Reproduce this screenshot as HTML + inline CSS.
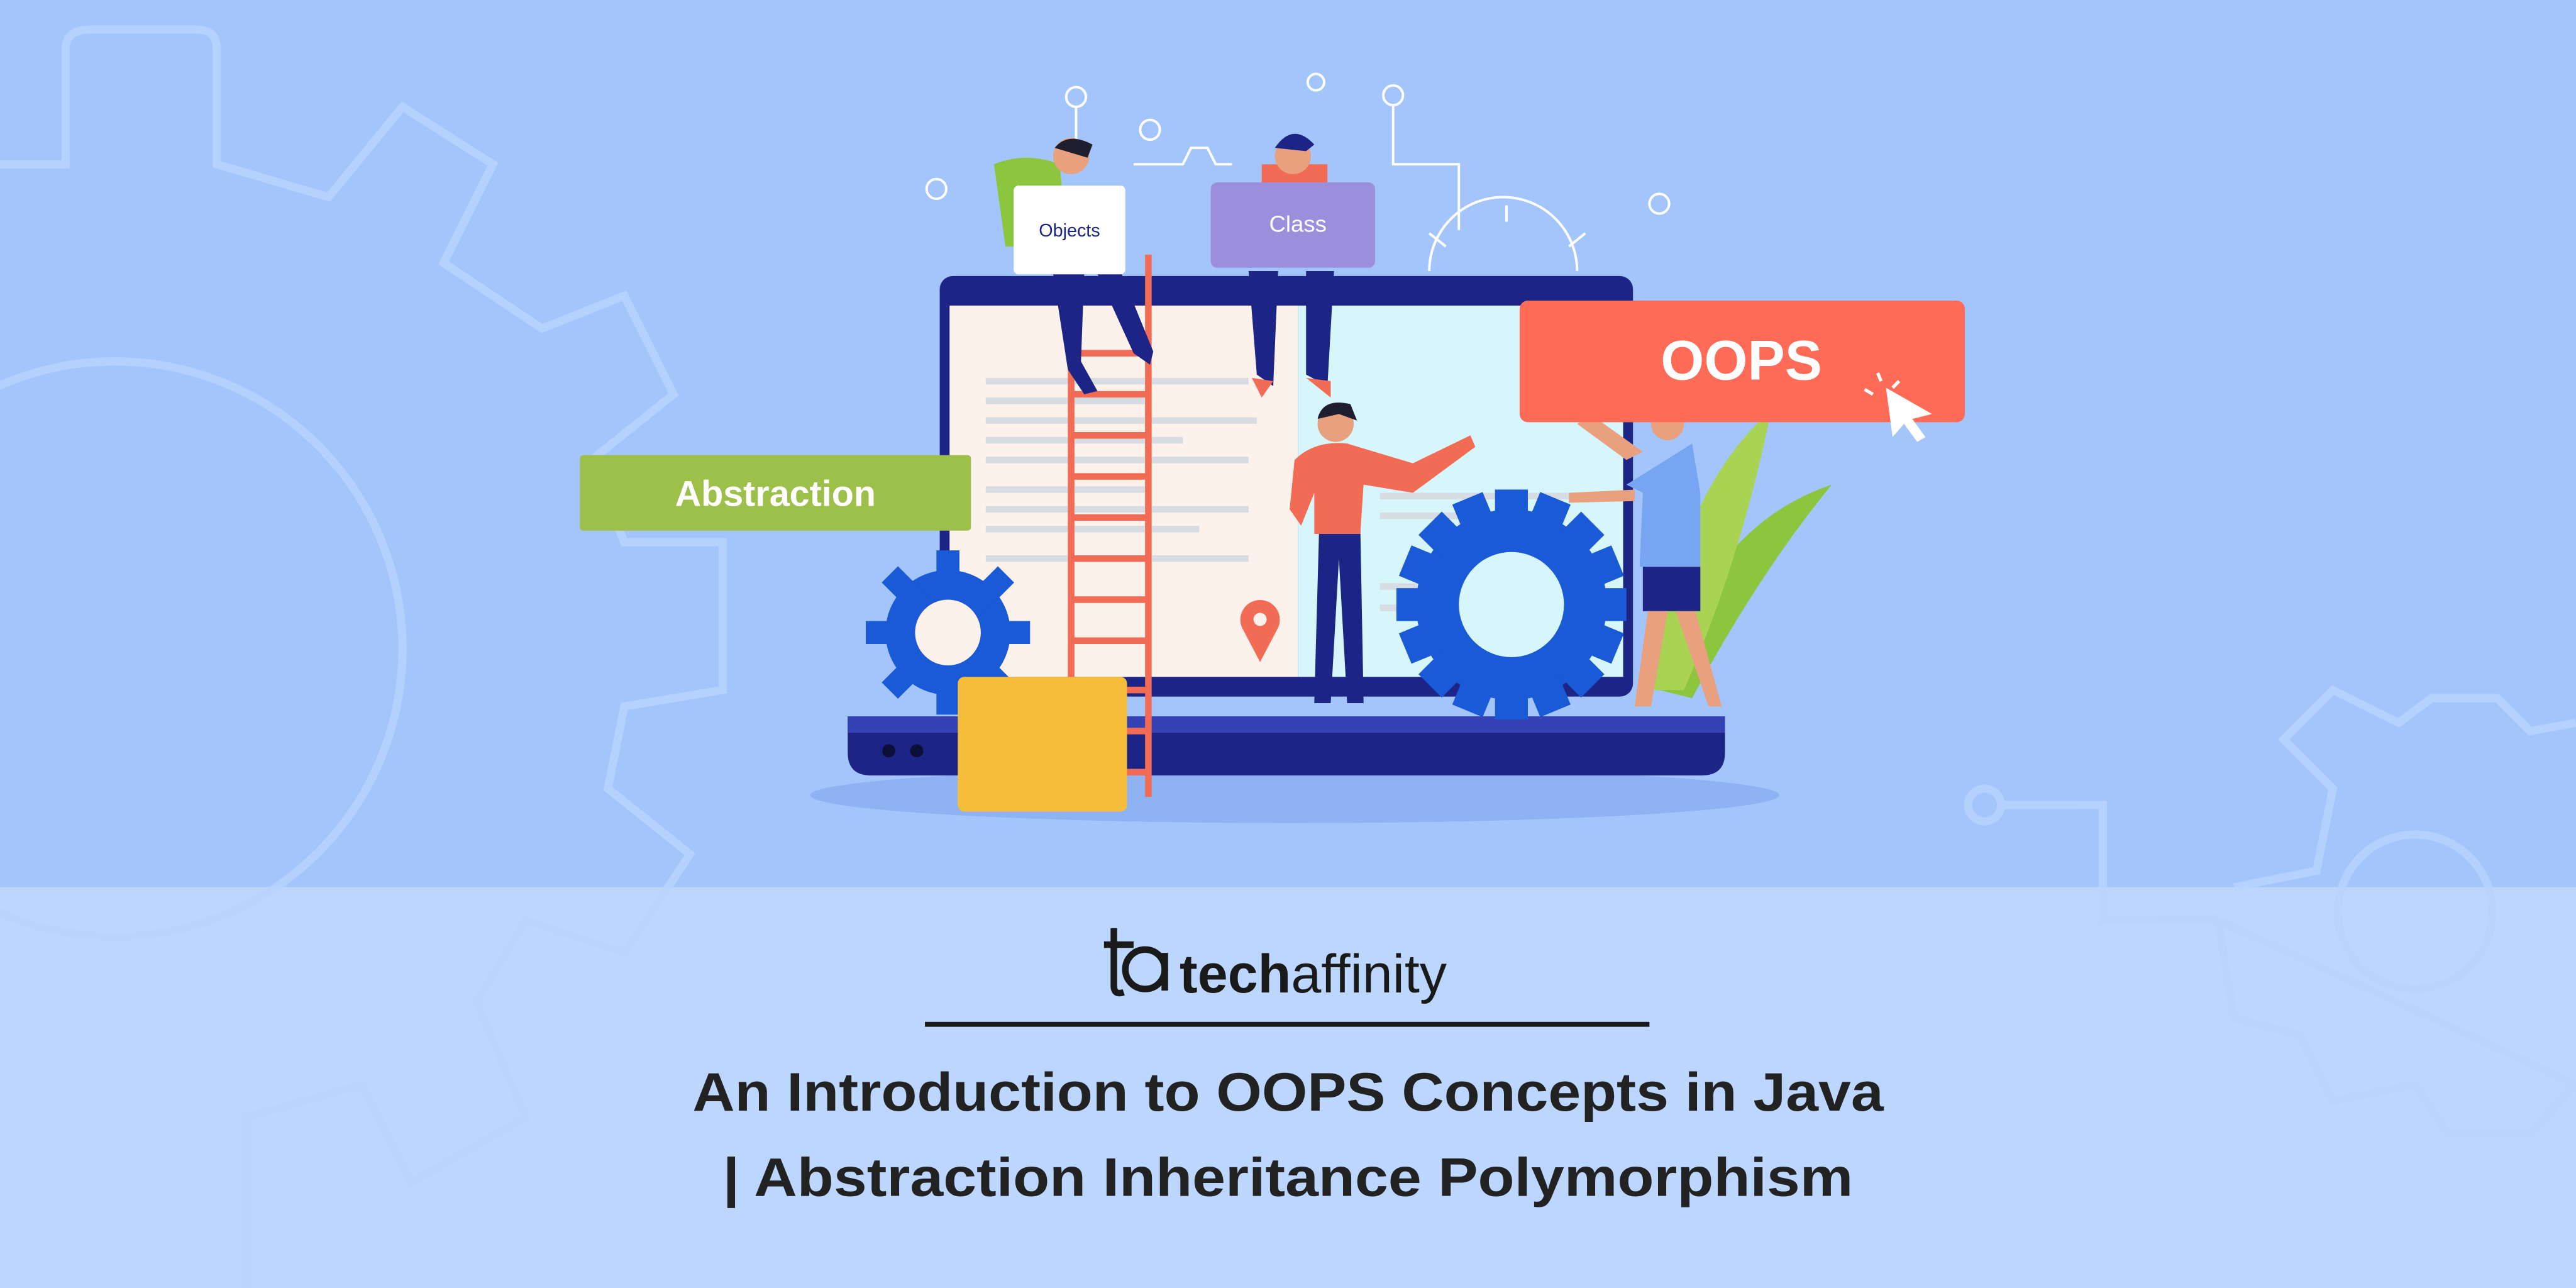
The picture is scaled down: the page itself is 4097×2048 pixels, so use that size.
<!DOCTYPE html>
<html><head><meta charset="utf-8"><style>
html,body{margin:0;padding:0;width:4097px;height:2048px;overflow:hidden;background:#a4c5fc}
svg{display:block}
</style></head><body>
<svg width="4097" height="2048" viewBox="0 0 1568 784" preserveAspectRatio="none" xmlns="http://www.w3.org/2000/svg" font-family="Liberation Sans, sans-serif">
<rect width="1568" height="784" fill="#a4c5fc"/>
<rect y="540" width="1568" height="244" fill="#bcd6fd"/>
<!-- faint background gears -->
<g fill="none" stroke="#b9d3fd" stroke-width="5" opacity="0.8">
<circle cx="70" cy="395" r="175"/>
<path d="M0 100 L40 100 L40 30 Q40 18 55 18 L120 18 Q132 18 132 30 L132 100 L200 120 L245 65 L300 100 L270 160 L330 200 L380 180 L410 240 L360 280 L380 330 L440 330 L440 420 L380 430 L370 480 L420 520 L380 580 L320 560 L290 610 L320 680 L250 720 L220 660 L150 680 L150 784"/>
<circle cx="1470" cy="555" r="47"/>
<path d="M1360 540 L1410 530 L1420 480 L1390 450 L1420 420 L1460 440 L1480 425 L1520 425 L1540 445 L1568 440 M1568 660 L1540 690 L1490 690 L1470 660 L1420 670 L1400 630 L1360 620 L1350 560 Z"/>
<circle cx="1208" cy="490" r="10"/>
<path d="M1218 490 L1280 490 L1280 560 L1350 560"/>
</g>
<g fill="none" stroke="#ffffff" stroke-width="1.5">
<circle cx="655" cy="59" r="6"/><path d="M655 65 V100 H620"/>
<circle cx="700" cy="79" r="6"/><circle cx="570" cy="115" r="6"/>
<circle cx="801" cy="50" r="5"/><circle cx="848" cy="58" r="6"/><path d="M848 64 V100 H888 V140"/>
<circle cx="1010" cy="124" r="6"/>
<path d="M690 100 h30 l5 -10 h10 l5 10 h10" /><path d="M870 165 a30 30 0 0 1 90 0 M880 150 l-10 -8 M955 150 l10 -8 M917 135 v-10"/>
</g>
<!-- shadow -->
<ellipse cx="788" cy="484" rx="295" ry="17" fill="#8fb2f2"/>
<!-- laptop -->
<rect x="572" y="168" width="422" height="256" rx="8" fill="#1c2585"/>
<rect x="578" y="186" width="212" height="226" fill="#fdf1ec"/>
<rect x="790" y="186" width="198" height="226" fill="#d7f6fb"/>
<g fill="#d6dce2">
<rect x="600" y="230" width="160" height="4"/><rect x="600" y="242" width="100" height="4"/><rect x="600" y="254" width="165" height="4"/>
<rect x="600" y="266" width="120" height="4"/><rect x="600" y="278" width="160" height="4"/><rect x="600" y="296" width="100" height="4"/>
<rect x="600" y="308" width="160" height="4"/><rect x="600" y="320" width="130" height="4"/><rect x="600" y="338" width="160" height="4"/>
<rect x="840" y="300" width="120" height="4"/><rect x="840" y="312" width="110" height="4"/><rect x="840" y="355" width="120" height="4"/><rect x="840" y="368" width="110" height="4"/>
</g>
<path d="M516 436 H1050 V458 Q1050 472 1036 472 H530 Q516 472 516 458 Z" fill="#1c2585"/>
<rect x="516" y="436" width="534" height="10" fill="#3442b3"/>
<circle cx="541" cy="457" r="4" fill="#0c0f3a"/><circle cx="558" cy="457" r="4" fill="#0c0f3a"/>
<!-- gears -->
<g fill="#1a5ad6">
<circle cx="577" cy="385" r="38"/>
<g transform="translate(577 385)"><rect x="-7" y="-50" width="14" height="100"/><rect x="-50" y="-7" width="100" height="14"/><rect x="-7" y="-50" width="14" height="100" transform="rotate(45)"/><rect x="-7" y="-50" width="14" height="100" transform="rotate(-45)"/></g>
<circle cx="920" cy="368" r="58"/>
<g transform="translate(920 368)"><rect x="-10" y="-70" width="20" height="140"/><rect x="-70" y="-10" width="140" height="20"/><rect x="-10" y="-70" width="20" height="140" transform="rotate(45)"/><rect x="-10" y="-70" width="20" height="140" transform="rotate(-45)"/><rect x="-10" y="-70" width="20" height="140" transform="rotate(22.5)"/><rect x="-10" y="-70" width="20" height="140" transform="rotate(-22.5)"/><rect x="-10" y="-70" width="20" height="140" transform="rotate(67.5)"/><rect x="-10" y="-70" width="20" height="140" transform="rotate(-67.5)"/></g>
</g>
<circle cx="577" cy="385" r="20" fill="#fdf1ec"/>
<circle cx="920" cy="368" r="32" fill="#d7f6fb"/>
<!-- plant -->
<path d="M1010 420 Q1040 320 1115 295 Q1070 350 1030 425 Z" fill="#8cc63f"/>
<path d="M1005 420 Q1020 300 1078 250 Q1060 340 1025 420 Z" fill="#a9d352"/>
<!-- yellow box -->
<rect x="583" y="412" width="103" height="82" rx="4" fill="#f6bd3b"/>
<!-- ladder -->
<g stroke="#f26b55" stroke-width="4"><line x1="652" y1="200" x2="652" y2="412"/><line x1="699" y1="155" x2="699" y2="485"/>
<path d="M652 215 H699 M652 240 H699 M652 265 H699 M652 290 H699 M652 315 H699 M652 340 H699 M652 365 H699 M652 390 H699 M686 420 H699 M686 445 H699 M686 470 H699"/></g>
<!-- pin -->
<path d="M767 403 L756 382 A12 12 0 1 1 778 382 Z" fill="#f26b55"/><circle cx="767" cy="377" r="4" fill="#fdf1ec"/>
<!-- person middle -->
<path d="M803 320 L800 428 H810 L815 340 L820 428 H830 L828 320 Z" fill="#1c2585"/>
<path d="M788 280 Q800 268 820 270 L860 282 L895 265 L898 272 L860 300 L830 295 L828 325 H800 L800 300 L792 320 L785 310 Z" fill="#f26b55"/>
<circle cx="813" cy="258" r="11" fill="#e8a07f"/><path d="M802 255 Q805 242 822 246 L826 256 L815 252 Z" fill="#1e1e2e"/>
<!-- person right -->
<path d="M990 295 L1030 270 L1035 300 L1035 345 H998 L1000 300 Z" fill="#78a5f2"/>
<path d="M1000 345 H1035 V372 H1000 Z" fill="#1c2585"/>
<path d="M1003 372 L995 430 H1005 L1015 372 Z M1020 372 L1040 430 H1048 L1032 372 Z" fill="#e8a07f"/>
<path d="M960 258 L990 280 L1000 275 L968 252 Z M955 300 L995 298 V305 L955 306 Z" fill="#e8a07f"/>
<circle cx="1015" cy="258" r="10" fill="#e8a07f"/>
<!-- person top-left -->
<path d="M640 160 L650 225 L660 240 L668 238 L658 220 L660 165 Z M665 160 L690 215 L700 222 L702 214 L680 160 Z" fill="#1c2585"/>
<path d="M605 100 Q625 92 645 100 L650 150 L612 150 Z" fill="#8cc63f"/>
<circle cx="652" cy="95" r="11" fill="#e8a07f"/><path d="M642 90 Q650 80 665 88 L662 96 Z" fill="#1e1e2e"/>
<!-- person top center -->
<path d="M760 165 L765 228 L775 235 L778 165 Z M795 165 L795 228 L808 235 L812 165 Z" fill="#1c2585"/>
<path d="M762 230 L775 232 L768 242 Z M795 230 L810 232 L810 242 Z" fill="#f26b55"/>
<rect x="768" y="100" width="40" height="20" fill="#f26b55"/>
<circle cx="787" cy="95" r="11" fill="#e8a07f"/><path d="M776 90 Q787 74 800 88 L795 92 Z" fill="#1c2585"/>
<!-- labels -->
<rect x="617" y="113" width="68" height="54" rx="3" fill="#ffffff"/>
<text x="651" y="144" font-size="11" fill="#1c2585" text-anchor="middle">Objects</text>
<rect x="737" y="111" width="100" height="52" rx="4" fill="#9b8fdb"/>
<text x="790" y="141" font-size="14" fill="#ffffff" text-anchor="middle">Class</text>
<rect x="353" y="277" width="238" height="46" rx="2" fill="#9dc04a"/>
<text x="472" y="308" font-size="22" font-weight="bold" fill="#ffffff" text-anchor="middle">Abstraction</text>
<rect x="925" y="183" width="271" height="74" rx="5" fill="#ff6b57"/>
<text x="1060" y="231" font-size="34" font-weight="bold" fill="#ffffff" text-anchor="middle">OOPS</text>
<path d="M1148 236 L1176 252 L1164 255 L1172 266 L1167 269 L1159 258 L1152 266 Z" fill="#ffffff"/>
<path d="M1140 240 l-5 -3 M1145 232 l-2 -5 M1152 236 l4 -4" stroke="#fff" stroke-width="2"/>
<!-- logo -->
<g fill="none" stroke="#1a1a1a" stroke-width="4"><path d="M678 565 V600 Q678 606 684 604"/><circle cx="697" cy="590" r="12"/><path d="M709 580 V603"/><path d="M672 575 H690"/></g>
<text x="718" y="604" font-size="33" fill="#1a1a1a"><tspan font-weight="bold">tech</tspan>affinity</text>
<rect x="563" y="622" width="441" height="3" fill="#1a1a1a"/>
<text x="784" y="676" font-size="33" font-weight="bold" fill="#222222" text-anchor="middle" textLength="725" lengthAdjust="spacingAndGlyphs">An Introduction to OOPS Concepts in Java</text>
<text x="784" y="728" font-size="33" font-weight="bold" fill="#222222" text-anchor="middle" textLength="688" lengthAdjust="spacingAndGlyphs">| Abstraction Inheritance Polymorphism</text>
</svg>
</body></html>
